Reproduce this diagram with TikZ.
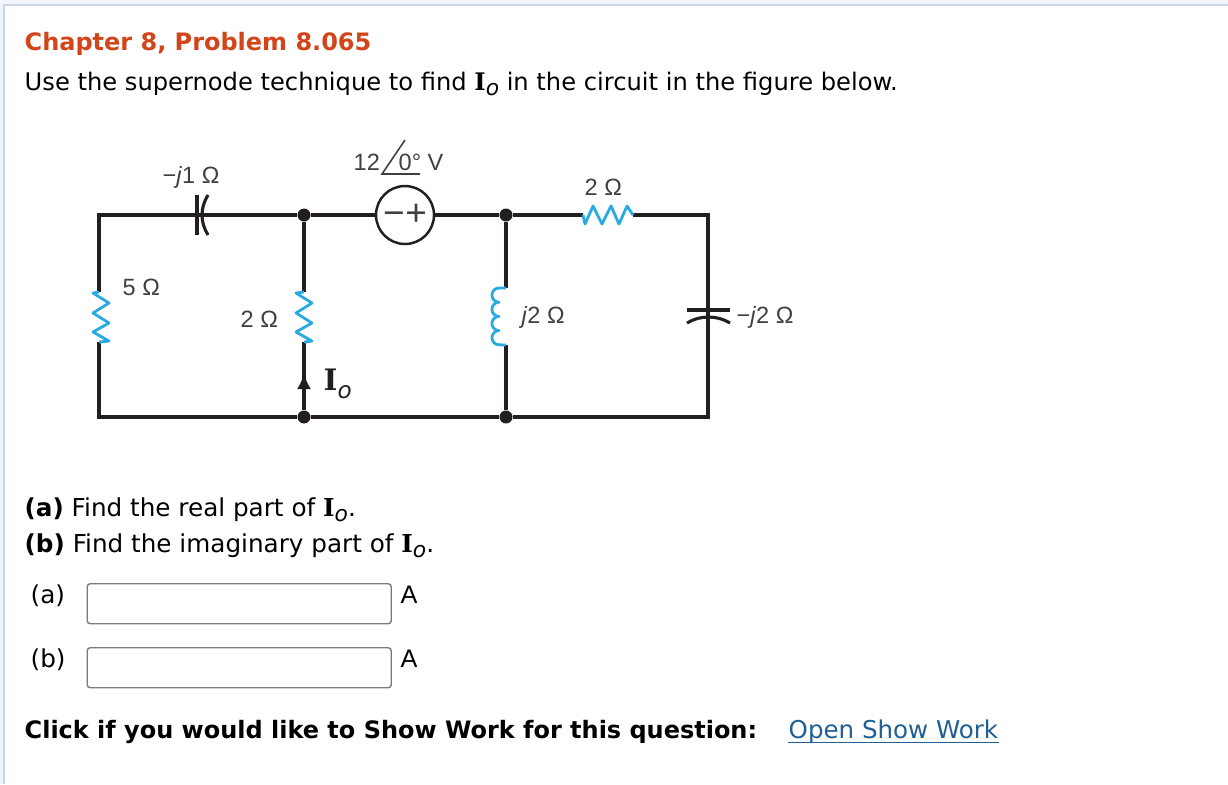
\documentclass[tikz,border=0pt]{standalone}
\usepackage{amssymb}
\usepackage{amsmath}
\usepackage{fontspec}
\usetikzlibrary{arrows.meta}
\setmainfont{DejaVu Sans}
\newfontfamily\labelfont{Liberation Sans}
\newfontfamily\boldserif{DejaVu Serif}
\definecolor{titlered}{HTML}{D2451B}
\definecolor{wirecol}{HTML}{231F20}
\definecolor{rescol}{HTML}{29ABE2}
\definecolor{labelcol}{HTML}{404040}
\definecolor{boxcol}{HTML}{7A7A7A}
\definecolor{linkcol}{HTML}{1F5F95}
\definecolor{edgecol}{HTML}{C9D5E4}
\definecolor{edgelight}{HTML}{F1F5FA}
\newcommand{\Iosub}{{\boldserif\bfseries I}\raisebox{-.4ex}{\fontsize{6.2}{8}\selectfont\itshape o}}
\newcommand{\Iolabel}{{\boldserif\bfseries\fontsize{8.4}{9}\selectfont I}\raisebox{-.45ex}{\fontsize{6.6}{7}\selectfont\itshape o}}
\tikzset{
  wire/.style={draw=wirecol, line width=.88pt},
  res/.style={draw=rescol, line width=.8pt, line join=round},
  dot/.style={circle, fill=wirecol, inner sep=0, minimum size=.13cm},
  txt/.style={anchor=base west, inner sep=0, text=black, font=\fontsize{6.88}{9}\selectfont},
  part/.style={txt, font=\fontsize{7.02}{9}\selectfont},
  head/.style={txt, text=titlered, font=\fontsize{6.82}{9}\selectfont\bfseries},
  clabel/.style={anchor=base west, inner sep=0, text=labelcol, font=\labelfont\fontsize{6.7}{8}\selectfont},
  answer/.style={draw=boxcol, line width=.4pt, rounded corners=.03cm, anchor=north west, minimum width=3.04cm, minimum height=.4cm, inner sep=0}
}
\begin{document}
\begin{tikzpicture}
\useasboundingbox (0, 0) rectangle (12.28, -7.84);
% page edge
\fill [edgelight] (0, 0) rectangle (12.28, -.05);
\fill [edgelight] (0, 0) rectangle (.03, -7.84);
\fill [edgecol] (.03, -.04) rectangle (12.28, -.06);
\fill [edgecol] (.03, -.04) rectangle (.05, -7.84);
% text
\node [head] (title) at (.24, -.5) {Chapter 8, Problem 8.065};
\node [txt] (intro) at (.24, -.9) {Use the supernode technique to find \Iosub\ in the circuit in the figure below.};
\node [part] (parta) at (.24, -5.16) {\textbf{(a)} Find the real part of \Iosub.};
\node [part] (partb) at (.24, -5.52) {\textbf{(b)} Find the imaginary part of \Iosub.};
\node [part] (laba) at (.3, -6.03) {(a)};
\node [part] (labb) at (.3, -6.67) {(b)};
\node [answer] (boxa) at (.865, -5.83) {};
\node [answer] (boxb) at (.865, -6.47) {};
\node [txt, font=\labelfont\fontsize{7.2}{9}\selectfont] (unita) at (4.0, -6.03) {A};
\node [txt, font=\labelfont\fontsize{7.2}{9}\selectfont] (unitb) at (4.0, -6.67) {A};
\node [txt, font=\fontsize{6.82}{9}\selectfont\bfseries] (click) at (.24, -7.38) {Click if you would like to Show Work for this question:};
\node [txt, text=linkcol, font=\fontsize{6.98}{9}\selectfont] (show) at (7.88, -7.38) {Open Show Work};
\draw [linkcol, line width=.35pt] ([yshift=-.045cm]show.base west) -- ([yshift=-.045cm]show.base east);
% circuit nodes
\coordinate (tl) at (.99, -2.15);
\coordinate (bl) at (.99, -4.17);
\node [dot] (tm) at (3.04, -2.15) {};
\node [dot] (bm) at (3.04, -4.17) {};
\node [dot] (tn) at (5.06, -2.15) {};
\node [dot] (bn) at (5.06, -4.17) {};
\coordinate (tr) at (7.08, -2.15);
\coordinate (br) at (7.08, -4.17);
\node [circle, draw=wirecol, line width=.7pt, fill=white, minimum size=.58cm, inner sep=0, font=\labelfont\fontsize{10.5}{10}\selectfont, text=labelcol] (vs) at (4.05, -2.15) {−\kern.2pt+};
\coordinate (r5a) at (.99, -2.92);
\coordinate (r5b) at (.99, -3.42);
\coordinate (r2a) at (3.04, -2.92);
\coordinate (r2b) at (3.04, -3.42);
\coordinate (r3a) at (5.83, -2.15);
\coordinate (r3b) at (6.33, -2.15);
\coordinate (la) at (5.06, -2.88);
\coordinate (lb) at (5.06, -3.45);
\coordinate (iotip) at (3.04, -3.73);
% wires
\draw [wire] (r5a) -- (tl) -- (tm);
\draw [wire] (r5b) -- (bl) -- (bm);
\draw [wire] (tm) -- (vs);
\draw [wire] (vs) -- (tn);
\draw [wire] (tn) -- (r3a);
\draw [wire] (r3b) -- (tr) -- (br) -- (bn);
\draw [wire] (bm) -- (bn);
\draw [wire] (tm) -- (r2a);
\draw [wire] (r2b) -- (bm);
\draw [wire] (tn) -- (la);
\draw [wire] (lb) -- (bn);
\draw [wire, -{Latex[length=.16cm, width=.14cm]}] (bm) -- (iotip);
% resistors
\draw [res] (r5a) -- ++(-.06, -.01) -- ++(.16, -.1) -- ++(-.16, -.1) -- ++(.16, -.1) -- ++(-.16, -.09) -- ++(.16, -.09) -- (r5b);
\draw [res] (r2a) -- ++(-.08, -.01) -- ++(.16, -.1) -- ++(-.16, -.1) -- ++(.16, -.1) -- ++(-.16, -.09) -- ++(.16, -.09) -- (r2b);
\draw [res] (r3a) -- ++(.02, -.09) -- ++(.08, .18) -- ++(.09, -.18) -- ++(.09, .18) -- ++(.08, -.18) -- ++(.08, .18) -- (r3b);
% inductor
\draw [res] (la) -- ++(-.07, 0) arc [start angle=90, end angle=270, radius=.071] arc [start angle=90, end angle=270, radius=.071] arc [start angle=90, end angle=270, radius=.071] arc [start angle=90, end angle=270, radius=.071] -- (lb);
% capacitors
\draw [wire] (1.97, -1.95) -- (1.97, -2.35);
\draw [wire] (2.08, -1.95) .. controls (2.0, -2.08) and (2.0, -2.22) .. (2.08, -2.35);
\draw [wire] (6.87, -3.1) -- (7.3, -3.1);
\draw [wire] (6.87, -3.23) .. controls (7.0, -3.15) and (7.17, -3.15) .. (7.3, -3.23);
% angle
\draw [labelcol, line width=.45pt] (4.05, -1.4) -- (3.82, -1.74) -- (4.2, -1.74);
% circuit labels
\node [clabel] (c1) at (1.62, -1.83) {−\textit{j}1 Ω};
\node [clabel] (v1) at (3.53, -1.7) {12};
\node [clabel] (v2) at (3.98, -1.7) {0° V};
\node [clabel] (r5) at (1.22, -2.95) {5 Ω};
\node [clabel] (r2) at (2.4, -3.27) {2 Ω};
\node [clabel] (r3) at (5.84, -1.95) {2 Ω};
\node [clabel] (l1) at (5.21, -3.23) {\textit{j}2 Ω};
\node [clabel] (c2) at (7.36, -3.23) {−\textit{j}2 Ω};
\node [anchor=base west, inner sep=0, text=wirecol] (io) at (3.23, -3.9) {\Iolabel};
\end{tikzpicture}
\end{document}
